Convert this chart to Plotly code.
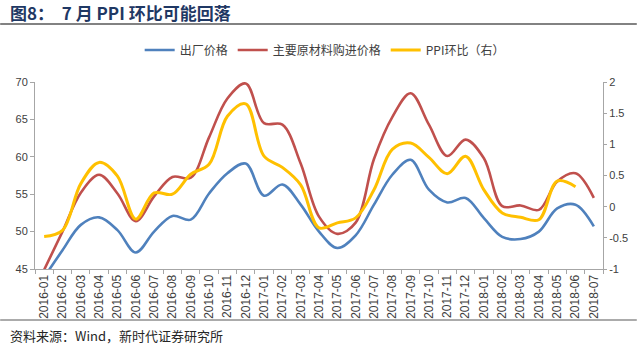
import plotly.graph_objects as go

months = ["2016-01", "2016-02", "2016-03", "2016-04", "2016-05", "2016-06", "2016-07",
          "2016-08", "2016-09", "2016-10", "2016-11", "2016-12", "2017-01", "2017-02",
          "2017-03", "2017-04", "2017-05", "2017-06", "2017-07", "2017-08", "2017-09",
          "2017-10", "2017-11", "2017-12", "2018-01", "2018-02", "2018-03", "2018-04",
          "2018-05", "2018-06", "2018-07"]

output_price = [43.9, 47.5, 50.9, 51.9, 50.2, 47.2, 50.0, 52.1, 51.6, 55.1, 57.8, 59.1,
                54.8, 56.3, 53.6, 50.0, 47.8, 49.5, 53.6, 57.6, 59.6, 55.6, 53.9, 54.5,
                51.8, 49.3, 49.0, 50.0, 53.1, 53.6, 50.7]

input_price = [44.9, 50.0, 55.2, 57.6, 55.1, 51.4, 54.7, 57.3, 57.2, 62.6, 67.8, 69.8,
               64.5, 64.3, 59.1, 52.0, 49.7, 51.2, 59.7, 65.3, 68.5, 64.3, 60.1, 62.3,
               59.8, 53.4, 53.5, 52.9, 56.7, 57.8, 54.5]

ppi_mom = [-0.48, -0.38, 0.37, 0.71, 0.49, -0.2, 0.22, 0.2, 0.52, 0.68, 1.45, 1.65,
           0.81, 0.63, 0.35, -0.34, -0.26, -0.18, 0.27, 0.92, 1.02, 0.79, 0.53, 0.81,
           0.27, -0.10, -0.17, -0.21, 0.41, 0.32, None]

left_ticks = [45, 50, 55, 60, 65, 70]
right_ticks = [-1, -0.5, 0, 0.5, 1, 1.5, 2]
right_tick_text = ["-1", "-0.5", "0", "0.5", "1", "1.5", "2"]

names = ["出厂价格", "主要原材料购进价格", "PPI环比（右）"]
colors = ["#4F81BD", "#C0504D", "#FFC000"]

FONT = "Liberation Sans, Arial, Noto Sans CJK SC, sans-serif"
CJK = "Noto Sans CJK SC, sans-serif"

fig = go.Figure()
fig.add_trace(go.Scatter(x=months, y=output_price, name=names[0], mode="lines",
                         line=dict(color=colors[0], width=2.6, shape="spline", smoothing=1.0)))
fig.add_trace(go.Scatter(x=months, y=input_price, name=names[1], mode="lines",
                         line=dict(color=colors[1], width=2.6, shape="spline", smoothing=1.0)))
fig.add_trace(go.Scatter(x=months, y=ppi_mom, name=names[2], mode="lines", yaxis="y2",
                         line=dict(color=colors[2], width=3, shape="spline", smoothing=1.0)))

axis_color = "#A6A6A6"
tick_font = dict(family=FONT, size=11, color="#404040")
xtick_font = dict(family=FONT, size=12, color="#404040")

fig.update_layout(
    width=640, height=348, autosize=False,
    margin=dict(l=35, r=34, t=82, b=79),
    paper_bgcolor="white", plot_bgcolor="white",
    font=dict(family=FONT, size=11, color="#404040"),
    showlegend=True,
    legend=dict(orientation="h", x=0.51, xanchor="center", y=1.171, yanchor="middle",
                font=dict(family=CJK, size=12, color="#404040"),
                bgcolor="rgba(0,0,0,0)", itemwidth=30, tracegroupgap=0),
    xaxis=dict(type="category", tickangle=-90, tickson="boundaries", ticks="outside",
               ticklen=4, tickcolor=axis_color, showline=True, linecolor=axis_color,
               linewidth=1, showgrid=False, zeroline=False, tickfont=xtick_font,
               range=[-0.5, len(months) - 0.5]),
    yaxis=dict(range=[45, 70], tickvals=left_ticks, ticks="outside", ticklen=4,
               tickcolor=axis_color, showline=True, linecolor=axis_color, linewidth=1,
               showgrid=False, zeroline=False, tickfont=tick_font),
    yaxis2=dict(range=[-1, 2], overlaying="y", side="right", tickvals=right_ticks,
                ticktext=right_tick_text, ticks="outside", ticklen=3,
                tickcolor=axis_color, showline=True, linecolor=axis_color, linewidth=1,
                showgrid=False, zeroline=False, tickfont=tick_font),
)

# title, header rule, footer rule and source note
fig.add_annotation(text="<b>图8：  7 月 PPI 环比可能回落</b>", xref="paper", yref="paper",
                   x=-0.0473, y=1.374, xanchor="left", yanchor="middle", showarrow=False,
                   font=dict(family=CJK, size=17, color="#1F3864"))
fig.add_shape(type="line", xref="paper", yref="paper", x0=-0.0613, x1=1.0595,
              y0=1.310, y1=1.310, line=dict(color="#595959", width=1.5))
fig.add_shape(type="line", xref="paper", yref="paper", x0=-0.0613, x1=1.0595,
              y0=-0.2727, y1=-0.2727, line=dict(color="#595959", width=1.2))
fig.add_annotation(text="资料来源：Wind，新时代证券研究所", xref="paper", yref="paper",
                   x=-0.0473, y=-0.353, xanchor="left", yanchor="middle", showarrow=False,
                   font=dict(family=CJK, size=13, color="#262626"))

fig.write_html("out.html")
